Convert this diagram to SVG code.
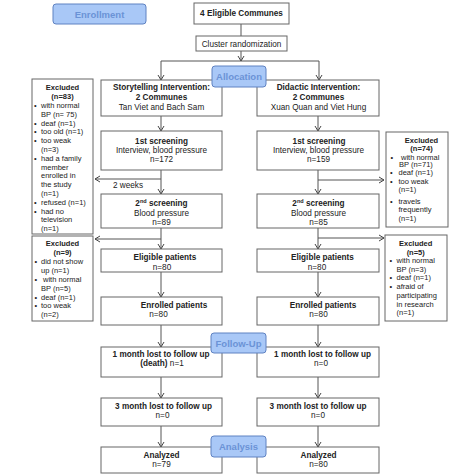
<svg xmlns="http://www.w3.org/2000/svg" width="474" height="474" viewBox="0 0 474 474">
<style>
text{font-family:"Liberation Sans",Arial,sans-serif;fill:#222}
.m{font-size:8.2px;text-anchor:middle}
.b{font-weight:bold}
.s{font-size:7.5px}
.c{text-anchor:middle}
.box{fill:#fff;stroke:#666;stroke-width:1}
.lab rect{fill:#a9c8f7;stroke:#5f82c2;stroke-width:1}
.lab text{font-size:9.5px;font-weight:bold;fill:#6b93d6;text-anchor:middle}
.con{fill:none;stroke:#555;stroke-width:1}
</style>
<defs>
<marker id="ar" markerWidth="8" markerHeight="8" refX="6" refY="4" orient="auto" markerUnits="userSpaceOnUse">
<path d="M1,1 L6,4 L1,7" fill="none" stroke="#444" stroke-width="1"/>
</marker>
</defs>
<g id="connectors" class="con">
<path d="M241,24 V36"/>
<path d="M241,51 V61" marker-end="url(#ar)"/>
<path d="M161,61 H319"/>
<path d="M161,61 V80" marker-end="url(#ar)"/>
<path d="M319,61 V80" marker-end="url(#ar)"/>
<path d="M161,116 V131" marker-end="url(#ar)"/>
<path d="M318,116 V131" marker-end="url(#ar)"/>
<path d="M161,170 V194" marker-end="url(#ar)"/>
<path d="M318,170 V194" marker-end="url(#ar)"/>
<path d="M161,179 H95" marker-end="url(#ar)"/>
<path d="M318,180 H384" marker-end="url(#ar)"/>
<path d="M161,228 V249" marker-end="url(#ar)"/>
<path d="M318,228 V249" marker-end="url(#ar)"/>
<path d="M161,239 H95" marker-end="url(#ar)"/>
<path d="M318,238 H384" marker-end="url(#ar)"/>
<path d="M161,272 V297" marker-end="url(#ar)"/>
<path d="M318,272 V297" marker-end="url(#ar)"/>
<path d="M161,325 V347" marker-end="url(#ar)"/>
<path d="M318,325 V347" marker-end="url(#ar)"/>
<path d="M161,377 V398" marker-end="url(#ar)"/>
<path d="M318,377 V398" marker-end="url(#ar)"/>
<path d="M161,426 V447" marker-end="url(#ar)"/>
<path d="M318,426 V447" marker-end="url(#ar)"/>
</g>
<text x="113" y="188" style="font-size:8.2px">2 weeks</text>

<g id="enrollment" class="lab"><rect x="53" y="4" width="93" height="20" rx="3"/><text x="99.5" y="17.5">Enrollment</text></g>
<g id="eligible-communes"><rect class="box" x="194" y="3" width="95" height="21"/><text class="m b" x="241.5" y="15.5">4 Eligible Communes</text></g>
<g id="cluster"><rect class="box" x="196" y="36" width="91" height="15"/><text class="m" x="241.5" y="46.5">Cluster randomization</text></g>

<g id="storytelling"><rect class="box" x="101" y="80" width="121" height="36"/>
<text class="m b" x="161.5" y="89.5">Storytelling Intervention:</text>
<text class="m b" x="161.5" y="99.5">2 Communes</text>
<text class="m" x="161.5" y="110">Tan Viet and Bach Sam</text></g>
<g id="didactic"><rect class="box" x="257" y="80" width="122" height="36"/>
<text class="m b" x="318.5" y="89.5">Didactic Intervention:</text>
<text class="m b" x="318.5" y="99.5">2 Communes</text>
<text class="m" x="318.5" y="110">Xuan Quan and Viet Hung</text></g>

<g id="screen1-left"><rect class="box" x="101" y="131" width="121" height="39"/>
<text class="m b" x="161.5" y="144">1st screening</text>
<text class="m" x="161.5" y="153">Interview, blood pressure</text>
<text class="m" x="161.5" y="162">n=172</text></g>
<g id="screen1-right"><rect class="box" x="257" y="131" width="122" height="39"/>
<text class="m b" x="319" y="144">1st screening</text>
<text class="m" x="318.5" y="153">Interview, blood pressure</text>
<text class="m" x="318.5" y="162">n=159</text></g>

<g id="screen2-left"><rect class="box" x="101" y="194" width="121" height="34"/>
<text class="m b" x="161.5" y="206">2<tspan font-size="5.5" dy="-3">nd</tspan><tspan dy="3"> screening</tspan></text>
<text class="m" x="161.5" y="215.5">Blood pressure</text>
<text class="m" x="161.5" y="225">n=89</text></g>
<g id="screen2-right"><rect class="box" x="257" y="194" width="122" height="34"/>
<text class="m b" x="318.5" y="206">2<tspan font-size="5.5" dy="-3">nd</tspan><tspan dy="3"> screening</tspan></text>
<text class="m" x="318.5" y="215.5">Blood pressure</text>
<text class="m" x="318.5" y="225">n=85</text></g>

<g id="eligible-left"><rect class="box" x="101" y="249" width="121" height="23"/>
<text class="m b" x="165" y="259.5">Eligible patients</text>
<text class="m" x="162" y="269.5">n=80</text></g>
<g id="eligible-right"><rect class="box" x="257" y="249" width="122" height="23"/>
<text class="m b" x="322.5" y="259.5">Eligible patients</text>
<text class="m" x="317" y="269.5">n=80</text></g>

<g id="enrolled-left"><rect class="box" x="101" y="297" width="121" height="28"/>
<text class="m b" x="174" y="308">Enrolled patients</text>
<text class="m" x="158.5" y="317">n=80</text></g>
<g id="enrolled-right"><rect class="box" x="257" y="297" width="122" height="28"/>
<text class="m b" x="323" y="308">Enrolled patients</text>
<text class="m" x="318.5" y="317">n=80</text></g>

<g id="month1-left"><rect class="box" x="101" y="347" width="121" height="30"/>
<text class="m b" x="161" y="357">1 month lost to follow up</text>
<text class="m" x="162" y="366"><tspan font-weight="bold">(death)</tspan> n=1</text></g>
<g id="month1-right"><rect class="box" x="257" y="347" width="122" height="30"/>
<text class="m b" x="322.5" y="357">1 month lost to follow up</text>
<text class="m" x="321" y="366">n=0</text></g>

<g id="month3-left"><rect class="box" x="101" y="398" width="121" height="28"/>
<text class="m b" x="163.5" y="409">3 month lost to follow up</text>
<text class="m" x="162.5" y="418">n=0</text></g>
<g id="month3-right"><rect class="box" x="257" y="398" width="122" height="28"/>
<text class="m b" x="318" y="409">3 month lost to follow up</text>
<text class="m" x="318" y="418">n=0</text></g>

<g id="analyzed-left"><rect class="box" x="101" y="447" width="121" height="26"/>
<text class="m b" x="161.5" y="458">Analyzed</text>
<text class="m" x="161.5" y="467">n=79</text></g>
<g id="analyzed-right"><rect class="box" x="257" y="447" width="122" height="26"/>
<text class="m b" x="318.5" y="458">Analyzed</text>
<text class="m" x="318.5" y="467">n=80</text></g>

<g id="excluded-83"><rect class="box" x="32" y="79" width="61" height="155"/>
<text class="s b c" x="62.5" y="89.5">Excluded</text>
<text class="s b c" x="62.5" y="98.5">(n=83)</text>
<text class="s"><tspan x="34" y="108">•</tspan><tspan x="41" y="108">with normal</tspan><tspan x="41" y="116.8">BP (n= 75)</tspan>
<tspan x="34" y="125.6">•</tspan><tspan x="41" y="125.6">deaf (n=1)</tspan>
<tspan x="34" y="134.4">•</tspan><tspan x="41" y="134.4">too old (n=1)</tspan>
<tspan x="34" y="143.2">•</tspan><tspan x="41" y="143.2">too weak</tspan><tspan x="41" y="152">(n=3)</tspan>
<tspan x="34" y="160.8">•</tspan><tspan x="41" y="160.8">had a family</tspan><tspan x="41" y="169.6">member</tspan><tspan x="41" y="178.4">enrolled in</tspan><tspan x="41" y="187.2">the study</tspan><tspan x="41" y="196">(n=1)</tspan>
<tspan x="34" y="204.8">•</tspan><tspan x="41" y="204.8">refused (n=1)</tspan>
<tspan x="34" y="213.6">•</tspan><tspan x="41" y="213.6">had no</tspan><tspan x="41" y="222.4">television</tspan><tspan x="41" y="231.2">(n=1)</tspan></text></g>

<g id="excluded-9"><rect class="box" x="32" y="236" width="61" height="85"/>
<text class="s b c" x="62.5" y="246">Excluded</text>
<text class="s b c" x="62.5" y="255">(n=9)</text>
<text class="s"><tspan x="34.5" y="264">•</tspan><tspan x="41" y="264">did not show</tspan><tspan x="41" y="273">up (n=1)</tspan>
<tspan x="34.5" y="282">•</tspan><tspan x="43" y="282">with normal</tspan><tspan x="41" y="290.7">BP (n=5)</tspan>
<tspan x="34.5" y="299.5">•</tspan><tspan x="41" y="299.5">deaf (n=1)</tspan>
<tspan x="34.5" y="308.3">•</tspan><tspan x="41" y="308.3">too weak</tspan><tspan x="41" y="317">(n=2)</tspan></text></g>

<g id="excluded-74"><rect class="box" x="386" y="132" width="62" height="95"/>
<text class="s b c" x="421.5" y="143">Excluded</text>
<text class="s b c" x="421.5" y="151">(n=74)</text>
<text class="s"><tspan x="390.5" y="159.5">•</tspan><tspan x="401" y="159.5">with normal</tspan><tspan x="399" y="167.3">BP (n=71)</tspan>
<tspan x="390" y="175.3">•</tspan><tspan x="398.5" y="175.3">deaf (n=1)</tspan>
<tspan x="390" y="183.6">•</tspan><tspan x="398.5" y="183.6">too weak</tspan><tspan x="398.5" y="192">(n=1)</tspan>
<tspan x="390" y="203.8">•</tspan><tspan x="398.5" y="203.8">travels</tspan><tspan x="398.5" y="212.2">frequently</tspan><tspan x="398.5" y="221">(n=1)</tspan></text></g>

<g id="excluded-5"><rect class="box" x="385" y="235" width="62" height="86"/>
<text class="s b c" x="415.7" y="245.5">Excluded</text>
<text class="s b c" x="415.7" y="254.5">(n=5)</text>
<text class="s"><tspan x="389.5" y="263">•</tspan><tspan x="396.5" y="263">with normal</tspan><tspan x="396.5" y="271.5">BP (n=3)</tspan>
<tspan x="389.5" y="280.2">•</tspan><tspan x="396.5" y="280.2">deaf (n=1)</tspan>
<tspan x="389.5" y="289">•</tspan><tspan x="396.5" y="289">afraid of</tspan><tspan x="396.5" y="297.8">participating</tspan><tspan x="396.5" y="306.6">in research</tspan><tspan x="396.5" y="315.4">(n=1)</tspan></text></g>

<g id="allocation" class="lab"><rect x="212" y="66" width="54" height="21" rx="3"/><text x="239" y="79.8">Allocation</text></g>
<g id="follow-up" class="lab"><rect x="211" y="333" width="55" height="20" rx="3"/><text x="238.5" y="346.5">Follow-Up</text></g>
<g id="analysis" class="lab"><rect x="211" y="436" width="55" height="21" rx="3"/><text x="238.5" y="449.8">Analysis</text></g>
</svg>
